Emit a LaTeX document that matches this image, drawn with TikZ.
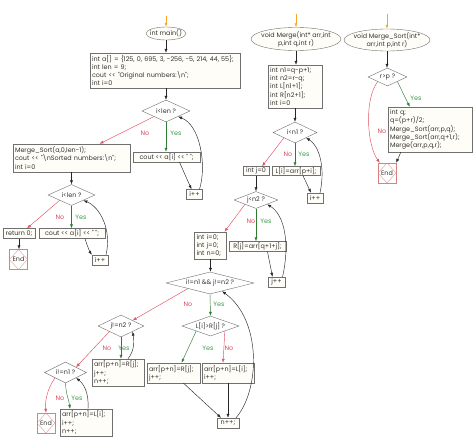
\documentclass[tikz,border=0pt]{standalone}
\usepackage{fontspec}
\setmainfont{Poppins}[Ligatures=TeXOff]
\usetikzlibrary{shapes.geometric,arrows.meta,calc}
\definecolor{boxline}{HTML}{707070}
\definecolor{boxfill}{HTML}{FFFDF7}
\definecolor{nored}{HTML}{E0505E}
\definecolor{nolabel}{HTML}{D9465A}
\definecolor{yesgreen}{HTML}{2F7D32}
\definecolor{yeslabel}{HTML}{3E9A48}
\definecolor{startor}{HTML}{F5A623}
\definecolor{endline}{HTML}{D98080}
\definecolor{txt}{HTML}{333333}
\newcommand{\fsz}{\fontsize{6.4}{8.2}\selectfont}
\tikzset{
  box/.style 2 args={rectangle, draw=boxline, fill=boxfill, text width=#1, minimum height=#2, inner xsep=2pt, inner ysep=0.5pt, align=left, text=txt},
  sbox/.style 2 args={rectangle, draw=boxline, fill=boxfill, minimum width=#1, minimum height=#2, inner xsep=1pt, inner ysep=0pt, align=center, text=txt},
  dec/.style n args={3}{diamond, draw=boxline, fill=white, minimum width=#1, minimum height=#2, inner sep=0pt, aspect=#3, text=txt},
  startnode/.style 2 args={ellipse, draw=boxline, fill=boxfill, minimum width=#1, minimum height=#2, inner xsep=-5pt, inner ysep=-1pt, align=center, text=txt},
  endnode/.style={rectangle, draw=endline, fill=white, minimum width=18pt, minimum height=20pt, inner sep=0pt, text=txt,
    path picture={\draw[endline!80] (path picture bounding box.north) -- (path picture bounding box.east) -- (path picture bounding box.south) -- (path picture bounding box.west) -- cycle;}},
  arr/.style={draw=black!85, -{Latex[length=4pt,width=3pt]}, line width=0.45pt},
  noarr/.style={draw=nored, -{Latex[length=4pt,width=3pt]}, line width=0.45pt},
  yesarr/.style={draw=yesgreen, -{Latex[length=4pt,width=3pt]}, line width=0.45pt},
  startarr/.style={draw=startor, -{Latex[length=4pt,width=3pt]}, line width=0.6pt},
  nolab/.style={text=nolabel, inner sep=0pt},
  yeslab/.style={text=yeslabel, inner sep=0pt},
}
\begin{document}
\begin{tikzpicture}[x=1pt,y=-1pt,font=\fsz]
\useasboundingbox (0,0) rectangle (474,444);
% ---------- main ----------
\node[startnode={40pt}{13pt}] (mainS) at (166,33.5) {int main()};
\node[box={146pt}{35pt}] (b1) at (165,70.5) {int a[] = \{125, 0, 695, 3, -256, -5, 214, 44, 55\};\\int len = 9;\\cout << "Original numbers:\textbackslash n";\\int i=0};
\node[dec={48pt}{22pt}{2.2}] (d1) at (166,111) {i<len ?};
\node[sbox={67pt}{10pt}] (b2) at (166.5,157) {cout << a[i] << " ";};
\node[sbox={16pt}{10pt}] (inc1) at (194.5,194.5) {i++};
\node[box={113pt}{28pt}] (b3) at (71.5,158) {Merge\_Sort(a,0,len-1);\\cout << "\textbackslash nSorted numbers:\textbackslash n";\\int i=0};
\node[dec={47pt}{21pt}{2.2}] (d2) at (71.5,195) {i<len ?};
\node[sbox={32pt}{10pt}] (ret) at (19,233.5) {return 0;};
\node[sbox={66pt}{10pt}] (b4) at (72,233.5) {cout << a[i] << " ";};
\node[endnode] (end1) at (18.5,259.5) {End};
\node[sbox={16pt}{10pt}] (inc2) at (100,260) {i++};
% ---------- Merge ----------
\node[startnode={90pt}{23pt}] (mS) at (296,39) {void Merge(int* arr,int\\p,int q,int r)};
\node[box={50pt}{43pt}] (mb1) at (295,86.5) {int n1=q-p+1;\\int n2=r-q;\\int L[n1+1];\\int R[n2+1];\\int i=0};
\node[dec={44pt}{21pt}{2.1}] (md1) at (295,132.5) {i<n1 ?};
\node[sbox={26pt}{9pt}] (mj0) at (256,171) {int j=0};
\node[sbox={48pt}{9pt}] (mL) at (296,171) {L[i]=arr[p+i];};
\node[sbox={16pt}{10pt}] (minc1) at (315,198) {i++};
\node[dec={44pt}{17pt}{2.6}] (md2) at (256,200) {j<n2 ?};
\node[sbox={57pt}{10pt}] (mR) at (257.5,246.5) {R[j]=arr[q+1+j];};
\node[box={28pt}{27pt}] (mI) at (210.5,245.5) {int i=0;\\int j=0;\\int n=0;};
\node[sbox={17pt}{10pt}] (minc2) at (276.5,282) {j++};
\node[dec={88pt}{22pt}{4}] (md3) at (210,283) {i!=n1 \&\& j!=n2 ?};
\node[dec={57pt}{20pt}{2.85}] (md4) at (210.5,326) {L[i]>R[j] ?};
\node[box={49pt}{20pt}] (mRj) at (173.5,373) {arr[p+n]=R[j];\\j++;};
\node[box={48pt}{20pt}] (mLi) at (228,373) {arr[p+n]=L[i];\\i++;};
\node[sbox={22pt}{10pt}] (mn) at (228,423) {n++;};
\node[dec={46pt}{22pt}{2.1}] (md5) at (121,326) {j!=n2 ?};
\node[box={48pt}{27pt}] (mRb) at (118,372.5) {arr[p+n]=R[j];\\j++;\\n++;};
\node[dec={42pt}{21pt}{2}] (md6) at (65.5,372.5) {i!=n1 ?};
\node[box={48pt}{27pt}] (mLb) at (86,422.5) {arr[p+n]=L[i];\\i++;\\n++;};
\node[endnode] (end2) at (46,423) {End};
% ---------- Merge_Sort ----------
\node[startnode={86pt}{22pt}] (sS) at (387,40) {void Merge\_Sort(int*\\arr,int p,int r)};
\node[dec={39pt}{18pt}{2.2}] (sd1) at (387.5,77) {r>p ?};
\node[box={80pt}{45pt}] (sb) at (430,129.5) {int q;\\q=(p+r)/2;\\Merge\_Sort(arr,p,q);\\Merge\_Sort(arr,q+1,r);\\Merge(arr,p,q,r);};
\node[endnode] (send) at (387,173) {End};
% ---------- start arrows ----------
\coordinate (o1) at (166,16);
\coordinate (o2) at (296,14);
\coordinate (o3) at (387,14);
\draw[startarr] (o1) -- (mainS.north);
\draw[startarr] (o2) -- (mS.north);
\draw[startarr] (o3) -- (sS.north);
% ---------- main edges ----------
\draw[arr] (mainS.south) -- (mainS.south |- b1.north);
\draw[arr] (b1.south -| d1.north) -- (d1.north);
\draw[noarr] (d1.south west) -- ($(b3.north)+(28,0)$);
\draw[yesarr] (d1.south) -- (d1.south |- b2.north);
\draw[arr] ($(b2.south)+(13,0)$) -- ($(inc1.north)+(-3,0)$);
\draw[arr] ($(inc1.north)+(5,0)$) .. controls (207,165) and (200,125) .. (d1.south east);
\draw[arr] (b3.south) -- (d2.north);
\draw[noarr] (d2.south west) -- ($(ret.north)+(8,0)$);
\draw[yesarr] (d2.south) -- (d2.south |- b4.north);
\draw[arr] (ret.south) -- (ret.south |- end1.north);
\draw[arr] ($(b4.south)+(13,0)$) .. controls (88,248) and (90,252) .. (inc2.north west);
\draw[arr] ($(inc2.north)+(6,0)$) .. controls (112,230) and (100,207) .. (d2.south east);
\node[nolab] (l1) at (145,133) {No};
\node[yeslab] (l2) at (176,133) {Yes};
\node[nolab] (l3) at (60,217) {No};
\node[yeslab] (l4) at (81,217) {Yes};
% ---------- Merge edges ----------
\draw[arr] (mS.south) -- (mS.south |- mb1.north);
\draw[arr] (mb1.south) -- (md1.north);
\draw[noarr] (md1.south west) -- ($(mj0.north)+(6,0)$);
\draw[yesarr] (md1.south) -- (md1.south |- mL.north);
\draw[arr] ($(mL.south)+(7,0)$) -- ($(minc1.north)+(-4,0)$);
\draw[arr] ($(minc1.north)+(5,0)$) .. controls (326,165) and (318,145) .. (md1.south east);
\draw[arr] (mj0.south) -- (md2.north);
\draw[yesarr] (md2.south) -- (md2.south |- mR.north);
\draw[noarr] (md2.south west) -- ($(mI.north)+(14,0)$);
\draw[arr] ($(mR.south)+(10,0)$) -- ($(minc2.north)+(-4,0)$);
\draw[arr] ($(minc2.north)+(6,0)$) .. controls (290,245) and (285,215) .. (md2.south east);
\draw[arr] (mI.south) -- (mI.south |- md3.north);
\draw[noarr] (md3.south west) -- (md5.north east);
\draw[yesarr] (md3.south) -- (md4.north);
\draw[yesarr] (md4.south west) -- ($(mRj.north)+(8,0)$);
\draw[noarr] (md4.south east) -- ($(mLi.north)+(-5,0)$);
\draw[arr] ($(mRj.south)+(10,0)$) -- ($(mn.north)+(-7,0)$);
\draw[arr] (mLi.south) -- (mLi.south |- mn.north);
\draw[arr] ($(mn.north)+(8,0)$) .. controls (260,390) and (262,320) .. ($(md3.south)+(12,-3)$);
\draw[noarr] (md5.south west) -- (md6.north east);
\draw[yesarr] (md5.south) -- (md5.south |- mRb.north);
\draw[arr] ($(mRb.north)+(10,0)$) .. controls (135,350) and (134,340) .. (md5.south east);
\draw[yesarr] (md6.south) .. controls (66,395) and (69,400) .. ($(mLb.north)+(-16,0)$);
\draw[noarr] (md6.south west) .. controls (47,390) and (45,400) .. (end2.north);
\draw[arr] ($(mLb.north)+(2,0)$) .. controls (89,395) and (85,385) .. (md6.south east);
\node[nolab] (l5) at (288,154) {No};
\node[yeslab] (l6) at (304,154) {Yes};
\node[nolab] (l7) at (251,221) {No};
\node[yeslab] (l8) at (266,221) {Yes};
\node[nolab] (l9) at (188,304) {No};
\node[yeslab] (l10) at (219,304) {Yes};
\node[yeslab] (l11) at (208,348) {Yes};
\node[nolab] (l12) at (229,348) {No};
\node[nolab] (l13) at (107,348) {No};
\node[yeslab] (l14) at (124,348) {Yes};
\node[nolab] (l15) at (60,398) {No};
\node[yeslab] (l16) at (77,398) {Yes};
% ---------- Merge_Sort edges ----------
\draw[arr] (sS.south) -- (sS.south |- sd1.north);
\draw[yesarr] (sd1.south east) -- ($(sb.north west)+(22,0)$);
\draw[noarr] (sd1.south west) .. controls (364,100) and (367,145) .. ($(send.north west)+(2,0)$);
\draw[arr] ($(sb.south west)+(13,0)$) -- (send.north east);
\node[yeslab] (l17) at (416,98) {Yes};
\node[nolab] (l18) at (382,131) {No};
\end{tikzpicture}
\end{document}
